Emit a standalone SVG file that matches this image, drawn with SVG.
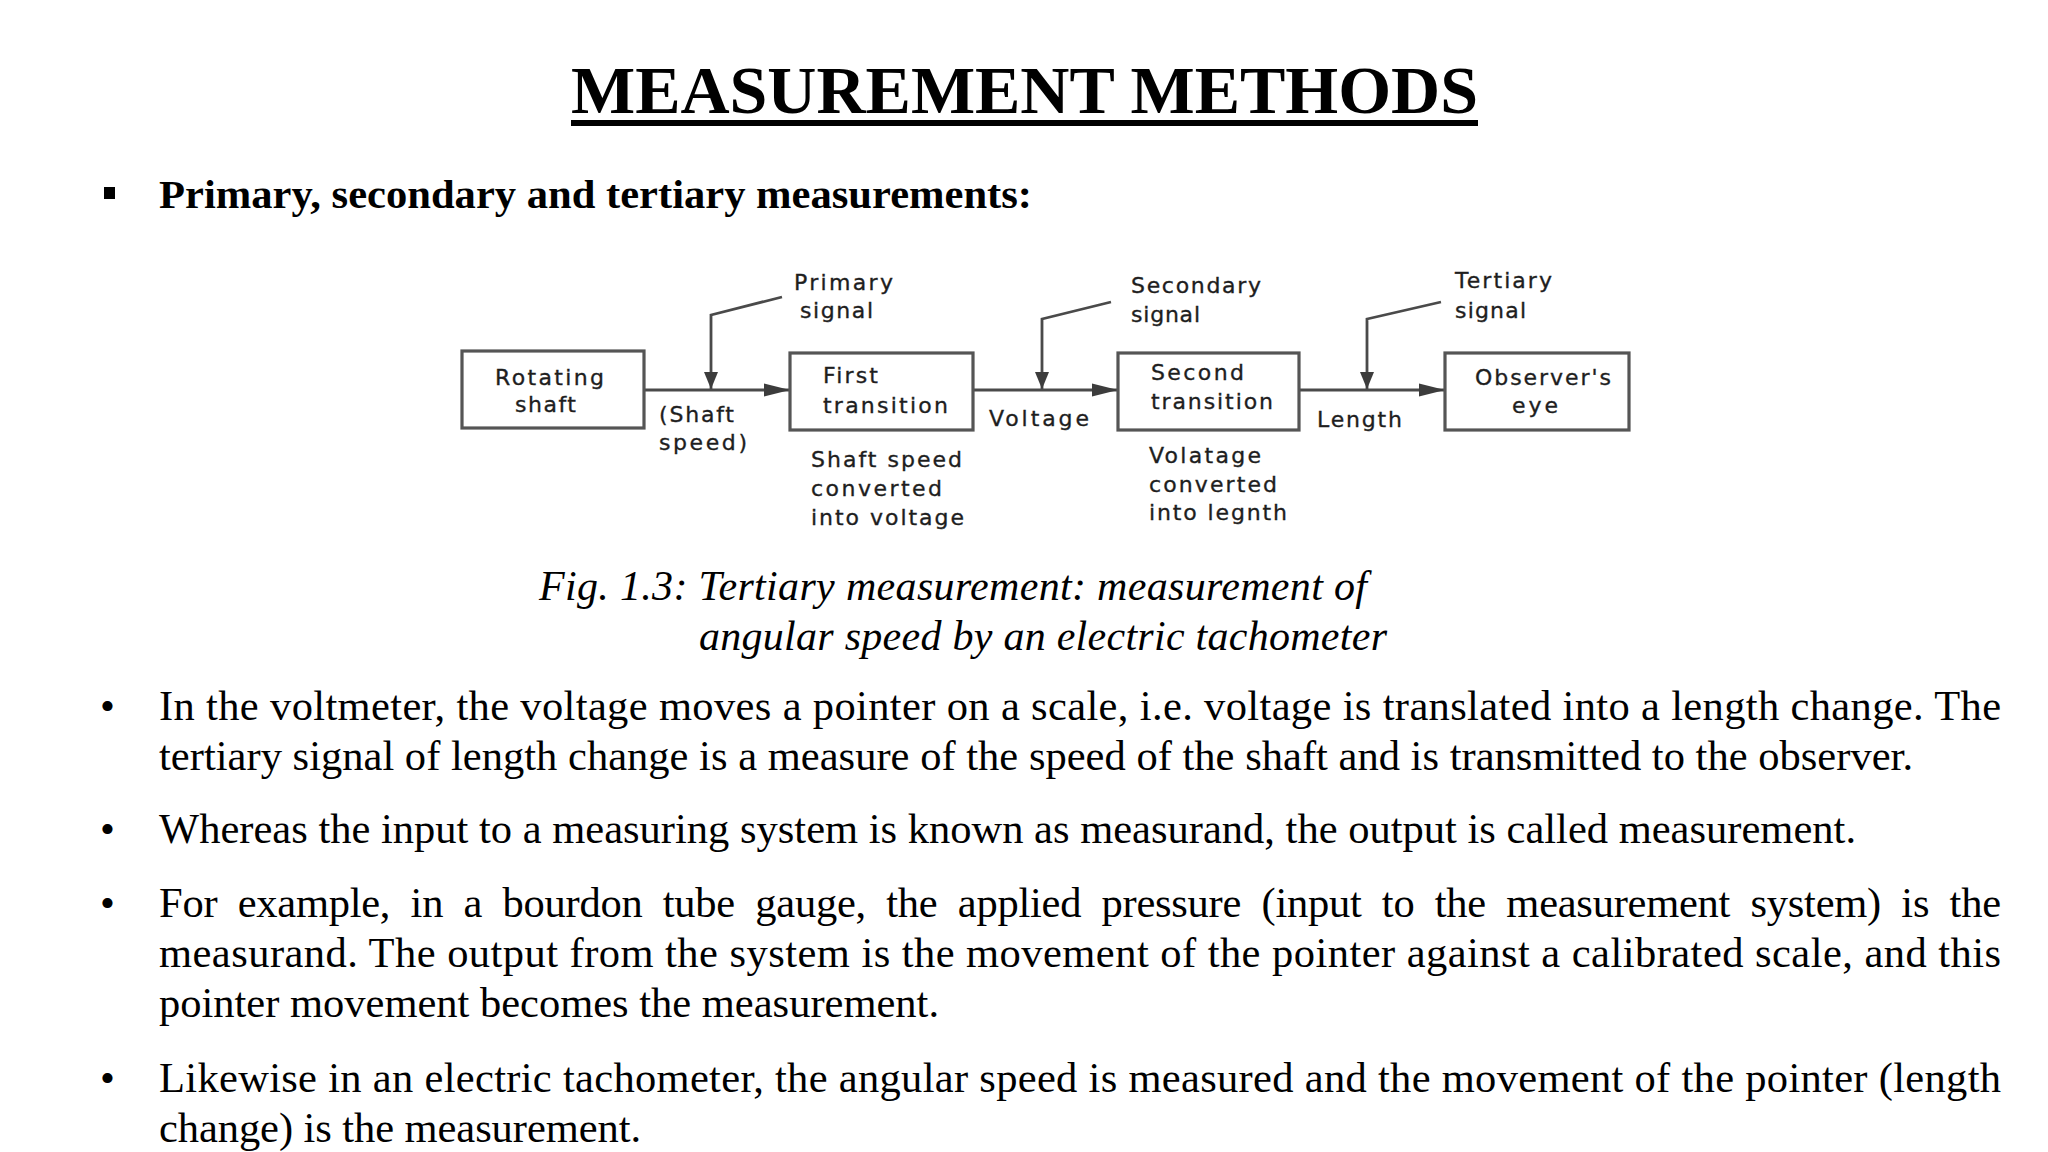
<svg xmlns="http://www.w3.org/2000/svg" width="2048" height="1152" viewBox="0 0 2048 1152">
<style>
.serif{font-family:"Liberation Serif","Times New Roman",serif;fill:#000}
.title{font-size:68px;font-weight:bold}
.sub{font-size:40px;font-weight:bold}
.body{font-size:42.5px}
.cap{font-size:42px;font-style:italic}
.dg{font-family:"DejaVu Sans",Verdana,sans-serif;font-size:22px;fill:#1e1e1e;stroke:#1e1e1e;stroke-width:0.35}
.box{fill:none;stroke:#555;stroke-width:3.2}
.con{fill:none;stroke:#4a4a4a;stroke-width:2.8}
</style>
<defs>
<marker id="ah" markerUnits="userSpaceOnUse" markerWidth="26" markerHeight="14" refX="26" refY="7" orient="auto">
<path d="M0,0.5 L26,7 L0,13.5 Z" fill="#3c3c3c"/>
</marker>
<marker id="av" markerUnits="userSpaceOnUse" markerWidth="17" markerHeight="14" refX="17" refY="7" orient="auto">
<path d="M0,0 L17,7 L0,14 Z" fill="#3c3c3c"/>
</marker>
</defs>
<rect width="2048" height="1152" fill="#fff"/>

<g id="title">
<text class="serif title" x="571" y="113" textLength="907" lengthAdjust="spacingAndGlyphs">MEASUREMENT METHODS</text>
<rect x="571" y="120" width="907" height="6" fill="#000"/>
</g>

<g id="subtitle">
<rect x="104" y="187" width="11" height="12" fill="#000"/>
<text class="serif sub" x="159" y="208" textLength="873" lengthAdjust="spacingAndGlyphs">Primary, secondary and tertiary measurements:</text>
</g>

<g id="connectors">
<line class="con" x1="644" y1="390" x2="790" y2="390" marker-end="url(#ah)"/>
<line class="con" x1="973" y1="390" x2="1118" y2="390" marker-end="url(#ah)"/>
<line class="con" x1="1299" y1="390" x2="1445" y2="390" marker-end="url(#ah)"/>
<polyline class="con" points="782,297 711,315 711,389" marker-end="url(#av)"/>
<polyline class="con" points="1111,302 1042,319 1042,389" marker-end="url(#av)"/>
<polyline class="con" points="1441,302 1367,319 1367,389" marker-end="url(#av)"/>
</g>

<g id="node-rotating-shaft">
<rect class="box" x="462" y="351" width="182" height="77"/>
<text class="dg" x="495" y="385" textLength="109" lengthAdjust="spacing">Rotating</text>
<text class="dg" x="515" y="412" textLength="61" lengthAdjust="spacing">shaft</text>
</g>

<g id="node-first-transition">
<rect class="box" x="790" y="353" width="183" height="77"/>
<text class="dg" x="823" y="383" textLength="55" lengthAdjust="spacing">First</text>
<text class="dg" x="823" y="413" textLength="125" lengthAdjust="spacing">transition</text>
</g>

<g id="node-second-transition">
<rect class="box" x="1118" y="353" width="181" height="77"/>
<text class="dg" x="1151" y="380" textLength="93" lengthAdjust="spacing">Second</text>
<text class="dg" x="1151" y="409" textLength="122" lengthAdjust="spacing">transition</text>
</g>

<g id="node-observers-eye">
<rect class="box" x="1445" y="353" width="184" height="77"/>
<text class="dg" x="1475" y="385" textLength="136" lengthAdjust="spacing">Observer's</text>
<text class="dg" x="1512" y="413" textLength="46" lengthAdjust="spacing">eye</text>
</g>

<g id="labels">
<text class="dg" x="659" y="422" textLength="75" lengthAdjust="spacing">(Shaft</text>
<text class="dg" x="659" y="450" textLength="88" lengthAdjust="spacing">speed)</text>
<text class="dg" x="794" y="290" textLength="99" lengthAdjust="spacing">Primary</text>
<text class="dg" x="800" y="318" textLength="73" lengthAdjust="spacing">signal</text>
<text class="dg" x="811" y="467" textLength="151" lengthAdjust="spacing">Shaft speed</text>
<text class="dg" x="811" y="496" textLength="131" lengthAdjust="spacing">converted</text>
<text class="dg" x="811" y="525" textLength="153" lengthAdjust="spacing">into voltage</text>
<text class="dg" x="989" y="426" textLength="100" lengthAdjust="spacing">Voltage</text>
<text class="dg" x="1131" y="293" textLength="130" lengthAdjust="spacing">Secondary</text>
<text class="dg" x="1131" y="322" textLength="69" lengthAdjust="spacing">signal</text>
<text class="dg" x="1149" y="463" textLength="112" lengthAdjust="spacing">Volatage</text>
<text class="dg" x="1149" y="492" textLength="128" lengthAdjust="spacing">converted</text>
<text class="dg" x="1149" y="520" textLength="138" lengthAdjust="spacing">into legnth</text>
<text class="dg" x="1317" y="427" textLength="85" lengthAdjust="spacing">Length</text>
<text class="dg" x="1455" y="288" textLength="97" lengthAdjust="spacing">Tertiary</text>
<text class="dg" x="1455" y="318" textLength="71" lengthAdjust="spacing">signal</text>
</g>

<g id="caption">
<text class="serif cap" x="539" y="600" textLength="828" lengthAdjust="spacing">Fig. 1.3: Tertiary measurement: measurement of</text>
<text class="serif cap" x="699" y="650" textLength="688" lengthAdjust="spacing">angular speed by an electric tachometer</text>
</g>

<g id="body">
<text class="serif body" x="100" y="720">•</text>
<text class="serif body" x="159" y="720" textLength="1842" lengthAdjust="spacing">In the voltmeter, the voltage moves a pointer on a scale, i.e. voltage is translated into a length change. The</text>
<text class="serif body" x="159" y="770" textLength="1754" lengthAdjust="spacing">tertiary signal of length change is a measure of the speed of the shaft and is transmitted to the observer.</text>
<text class="serif body" x="100" y="843">•</text>
<text class="serif body" x="159" y="843" textLength="1697" lengthAdjust="spacing">Whereas the input to a measuring system is known as measurand, the output is called measurement.</text>
<text class="serif body" x="100" y="917">•</text>
<text class="serif body" x="159" y="917" textLength="1842" lengthAdjust="spacing" word-spacing="10">For example, in a bourdon tube gauge, the applied pressure (input to the measurement system) is the</text>
<text class="serif body" x="159" y="967" textLength="1842" lengthAdjust="spacing">measurand. The output from the system is the movement of the pointer against a calibrated scale, and this</text>
<text class="serif body" x="159" y="1017" textLength="780" lengthAdjust="spacing">pointer movement becomes the measurement.</text>
<text class="serif body" x="100" y="1092">•</text>
<text class="serif body" x="159" y="1092" textLength="1842" lengthAdjust="spacing">Likewise in an electric tachometer, the angular speed is measured and the movement of the pointer (length</text>
<text class="serif body" x="159" y="1142" textLength="482" lengthAdjust="spacing">change) is the measurement.</text>
</g>
</svg>
